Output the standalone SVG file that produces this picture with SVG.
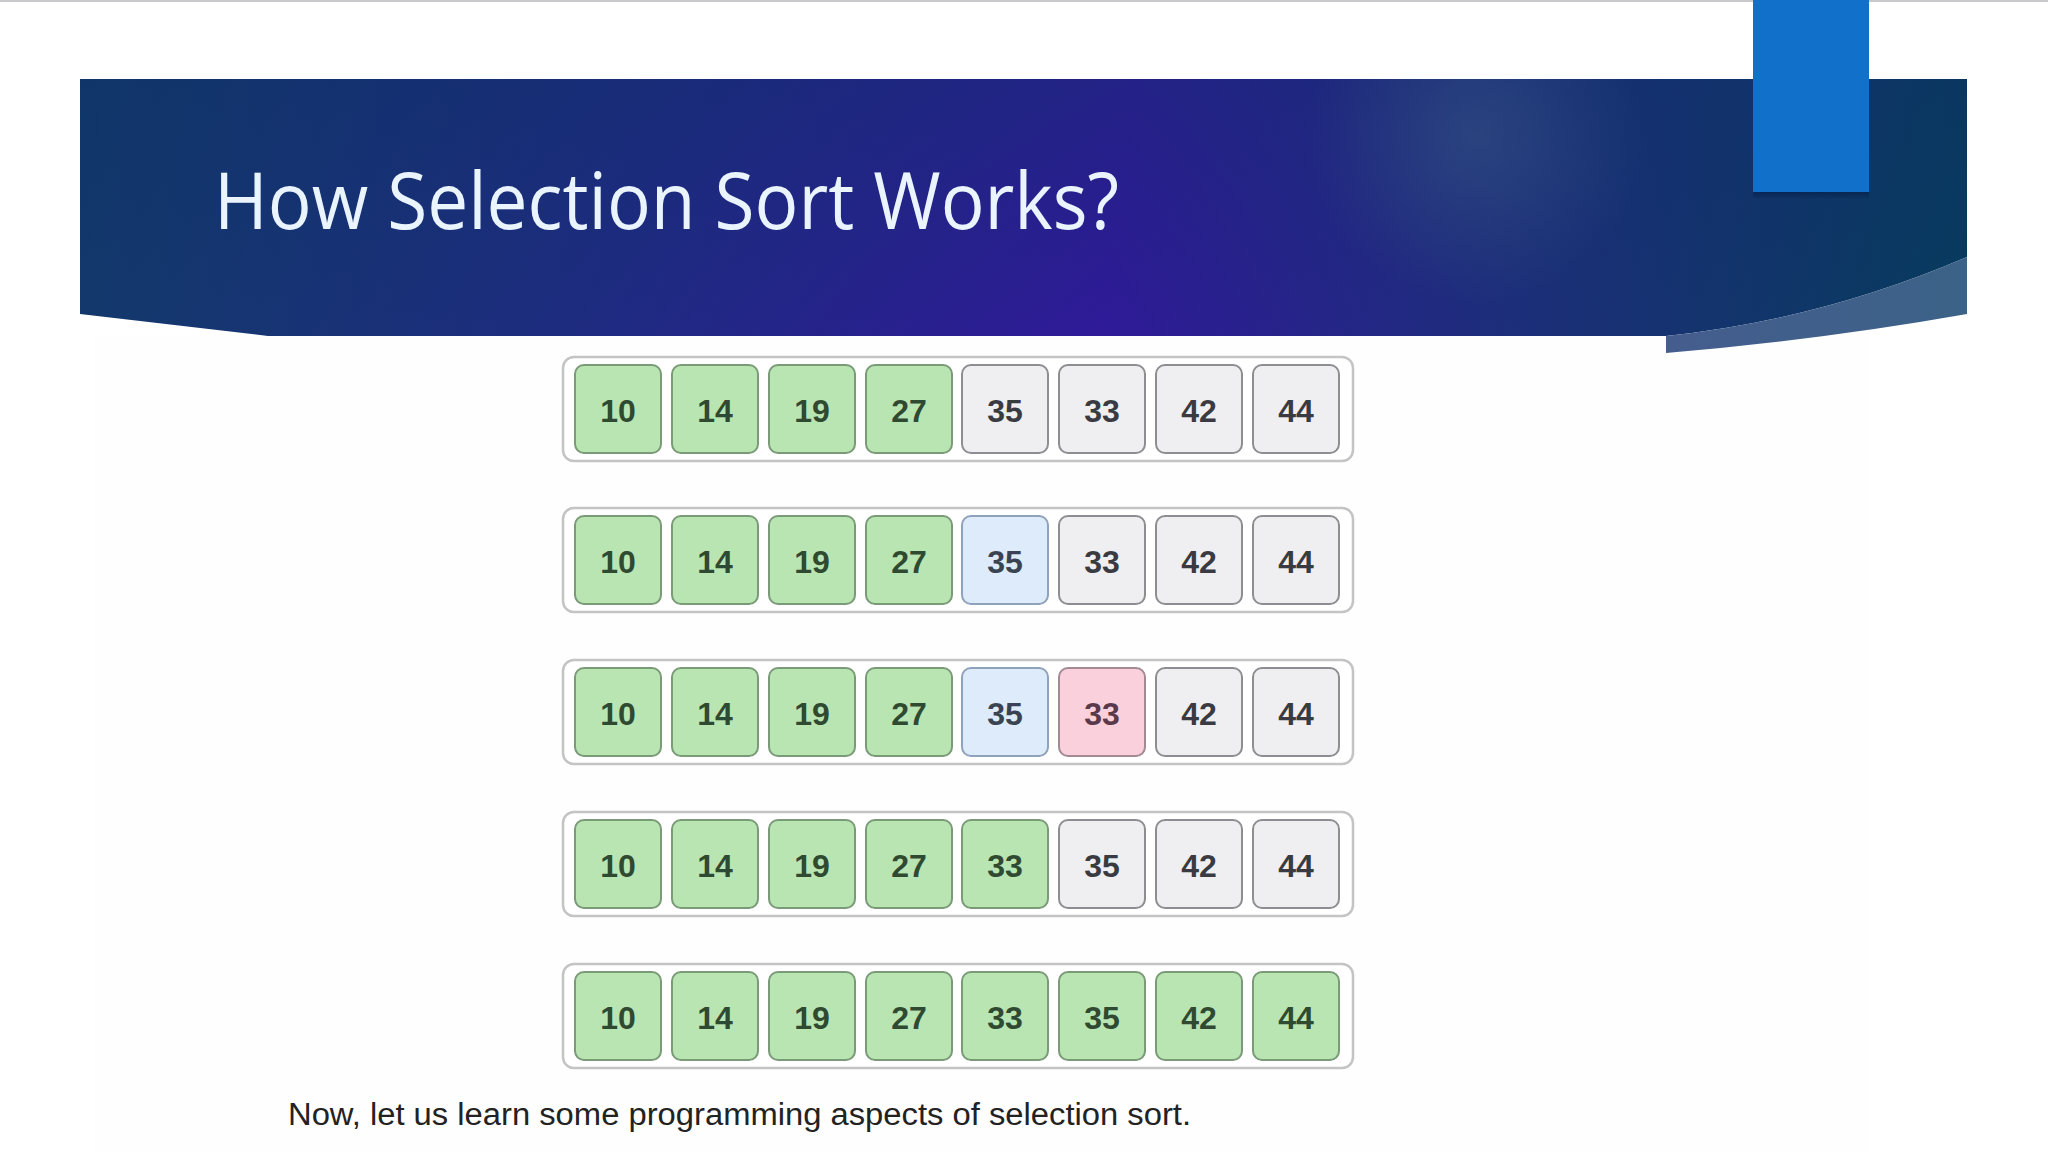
<svg xmlns="http://www.w3.org/2000/svg" width="2048" height="1152" viewBox="0 0 2048 1152">
<defs>
<linearGradient id="hdr" x1="80" y1="79" x2="1967" y2="336" gradientUnits="userSpaceOnUse">
<stop offset="0" stop-color="#123a6a"/>
<stop offset="0.3" stop-color="#1f2a82"/>
<stop offset="0.55" stop-color="#2f1a98"/>
<stop offset="0.75" stop-color="#1e2d7c"/>
<stop offset="1" stop-color="#073c5c"/>
</linearGradient>
<linearGradient id="hdrTop" x1="0" y1="79" x2="0" y2="336" gradientUnits="userSpaceOnUse">
<stop offset="0" stop-color="#0c2f66" stop-opacity="0.35"/>
<stop offset="1" stop-color="#0c2f66" stop-opacity="0"/>
</linearGradient>
<radialGradient id="glow" cx="1476" cy="135" r="170" gradientUnits="userSpaceOnUse">
<stop offset="0" stop-color="#3a5a86" stop-opacity="0.5"/>
<stop offset="1" stop-color="#3a5a86" stop-opacity="0"/>
</radialGradient>
<linearGradient id="wedge" x1="1666" y1="0" x2="1967" y2="0" gradientUnits="userSpaceOnUse">
<stop offset="0" stop-color="#455d8e"/>
<stop offset="1" stop-color="#3b6287"/>
</linearGradient>
<linearGradient id="shade" x1="0" y1="192" x2="0" y2="200" gradientUnits="userSpaceOnUse">
<stop offset="0" stop-color="#06204a" stop-opacity="0.7"/>
<stop offset="1" stop-color="#06204a" stop-opacity="0"/>
</linearGradient>
</defs>
<style>
.outer{fill:#ffffff;stroke:#c4c4c4;stroke-width:2.5}
.g{fill:#b9e5b3;stroke:#7a9a78;stroke-width:2}
.w{fill:#efeff1;stroke:#8e8e92;stroke-width:2}
.b{fill:#deebfa;stroke:#8ea2bc;stroke-width:2}
.p{fill:#fbd0dd;stroke:#a38a92;stroke-width:2}
.num{font-family:"Liberation Sans",Arial,sans-serif;font-size:32px;font-weight:bold;text-anchor:middle}
.tg{fill:#2f4a30}
.tw{fill:#3a3b42}
.tb{fill:#3a4352}
.tp{fill:#5a3a4a}
</style>
<rect x="0" y="0" width="2048" height="1152" fill="#ffffff"/>
<rect x="94" y="336" width="1774" height="816" fill="#fefefe"/>
<rect x="0" y="0" width="2048" height="2" fill="#c9c9cc"/>

<g id="header">
<path d="M80 79 H1967 V257 Q1820 320 1666 336 H268 L80 314 Z" fill="url(#hdr)"/>
<path d="M80 79 H1967 V257 Q1820 320 1666 336 H268 L80 314 Z" fill="url(#hdrTop)"/>
<path d="M80 79 H1967 V257 Q1820 320 1666 336 H268 L80 314 Z" fill="url(#glow)"/>
<path d="M1666 336 Q1820 320 1967 257 V314 Q1820 340 1666 353 Z" fill="url(#wedge)"/>
<text x="214" y="229" font-family="'Open Sans','Noto Sans',sans-serif" font-weight="400" font-size="78" fill="#eaf4ff" textLength="905" lengthAdjust="spacingAndGlyphs">How Selection Sort Works?</text>
</g>
<g id="accent">
<rect x="1753" y="192" width="116" height="7" fill="url(#shade)"/>
<rect x="1753" y="0" width="116" height="192" fill="#1170c9"/>
</g>

<g id="row1">
<rect class="outer" x="563" y="357" width="790" height="104" rx="11"/>
<g id="r1c1"><rect class="g" x="575" y="365" width="86" height="88" rx="9"/><text class="num tg" x="618" y="422">10</text></g>
<g id="r1c2"><rect class="g" x="672" y="365" width="86" height="88" rx="9"/><text class="num tg" x="715" y="422">14</text></g>
<g id="r1c3"><rect class="g" x="769" y="365" width="86" height="88" rx="9"/><text class="num tg" x="812" y="422">19</text></g>
<g id="r1c4"><rect class="g" x="866" y="365" width="86" height="88" rx="9"/><text class="num tg" x="909" y="422">27</text></g>
<g id="r1c5"><rect class="w" x="962" y="365" width="86" height="88" rx="9"/><text class="num tw" x="1005" y="422">35</text></g>
<g id="r1c6"><rect class="w" x="1059" y="365" width="86" height="88" rx="9"/><text class="num tw" x="1102" y="422">33</text></g>
<g id="r1c7"><rect class="w" x="1156" y="365" width="86" height="88" rx="9"/><text class="num tw" x="1199" y="422">42</text></g>
<g id="r1c8"><rect class="w" x="1253" y="365" width="86" height="88" rx="9"/><text class="num tw" x="1296" y="422">44</text></g>
</g>

<g id="row2">
<rect class="outer" x="563" y="508" width="790" height="104" rx="11"/>
<g id="r2c1"><rect class="g" x="575" y="516" width="86" height="88" rx="9"/><text class="num tg" x="618" y="573">10</text></g>
<g id="r2c2"><rect class="g" x="672" y="516" width="86" height="88" rx="9"/><text class="num tg" x="715" y="573">14</text></g>
<g id="r2c3"><rect class="g" x="769" y="516" width="86" height="88" rx="9"/><text class="num tg" x="812" y="573">19</text></g>
<g id="r2c4"><rect class="g" x="866" y="516" width="86" height="88" rx="9"/><text class="num tg" x="909" y="573">27</text></g>
<g id="r2c5"><rect class="b" x="962" y="516" width="86" height="88" rx="9"/><text class="num tb" x="1005" y="573">35</text></g>
<g id="r2c6"><rect class="w" x="1059" y="516" width="86" height="88" rx="9"/><text class="num tw" x="1102" y="573">33</text></g>
<g id="r2c7"><rect class="w" x="1156" y="516" width="86" height="88" rx="9"/><text class="num tw" x="1199" y="573">42</text></g>
<g id="r2c8"><rect class="w" x="1253" y="516" width="86" height="88" rx="9"/><text class="num tw" x="1296" y="573">44</text></g>
</g>

<g id="row3">
<rect class="outer" x="563" y="660" width="790" height="104" rx="11"/>
<g id="r3c1"><rect class="g" x="575" y="668" width="86" height="88" rx="9"/><text class="num tg" x="618" y="725">10</text></g>
<g id="r3c2"><rect class="g" x="672" y="668" width="86" height="88" rx="9"/><text class="num tg" x="715" y="725">14</text></g>
<g id="r3c3"><rect class="g" x="769" y="668" width="86" height="88" rx="9"/><text class="num tg" x="812" y="725">19</text></g>
<g id="r3c4"><rect class="g" x="866" y="668" width="86" height="88" rx="9"/><text class="num tg" x="909" y="725">27</text></g>
<g id="r3c5"><rect class="b" x="962" y="668" width="86" height="88" rx="9"/><text class="num tb" x="1005" y="725">35</text></g>
<g id="r3c6"><rect class="p" x="1059" y="668" width="86" height="88" rx="9"/><text class="num tp" x="1102" y="725">33</text></g>
<g id="r3c7"><rect class="w" x="1156" y="668" width="86" height="88" rx="9"/><text class="num tw" x="1199" y="725">42</text></g>
<g id="r3c8"><rect class="w" x="1253" y="668" width="86" height="88" rx="9"/><text class="num tw" x="1296" y="725">44</text></g>
</g>

<g id="row4">
<rect class="outer" x="563" y="812" width="790" height="104" rx="11"/>
<g id="r4c1"><rect class="g" x="575" y="820" width="86" height="88" rx="9"/><text class="num tg" x="618" y="877">10</text></g>
<g id="r4c2"><rect class="g" x="672" y="820" width="86" height="88" rx="9"/><text class="num tg" x="715" y="877">14</text></g>
<g id="r4c3"><rect class="g" x="769" y="820" width="86" height="88" rx="9"/><text class="num tg" x="812" y="877">19</text></g>
<g id="r4c4"><rect class="g" x="866" y="820" width="86" height="88" rx="9"/><text class="num tg" x="909" y="877">27</text></g>
<g id="r4c5"><rect class="g" x="962" y="820" width="86" height="88" rx="9"/><text class="num tg" x="1005" y="877">33</text></g>
<g id="r4c6"><rect class="w" x="1059" y="820" width="86" height="88" rx="9"/><text class="num tw" x="1102" y="877">35</text></g>
<g id="r4c7"><rect class="w" x="1156" y="820" width="86" height="88" rx="9"/><text class="num tw" x="1199" y="877">42</text></g>
<g id="r4c8"><rect class="w" x="1253" y="820" width="86" height="88" rx="9"/><text class="num tw" x="1296" y="877">44</text></g>
</g>

<g id="row5">
<rect class="outer" x="563" y="964" width="790" height="104" rx="11"/>
<g id="r5c1"><rect class="g" x="575" y="972" width="86" height="88" rx="9"/><text class="num tg" x="618" y="1029">10</text></g>
<g id="r5c2"><rect class="g" x="672" y="972" width="86" height="88" rx="9"/><text class="num tg" x="715" y="1029">14</text></g>
<g id="r5c3"><rect class="g" x="769" y="972" width="86" height="88" rx="9"/><text class="num tg" x="812" y="1029">19</text></g>
<g id="r5c4"><rect class="g" x="866" y="972" width="86" height="88" rx="9"/><text class="num tg" x="909" y="1029">27</text></g>
<g id="r5c5"><rect class="g" x="962" y="972" width="86" height="88" rx="9"/><text class="num tg" x="1005" y="1029">33</text></g>
<g id="r5c6"><rect class="g" x="1059" y="972" width="86" height="88" rx="9"/><text class="num tg" x="1102" y="1029">35</text></g>
<g id="r5c7"><rect class="g" x="1156" y="972" width="86" height="88" rx="9"/><text class="num tg" x="1199" y="1029">42</text></g>
<g id="r5c8"><rect class="g" x="1253" y="972" width="86" height="88" rx="9"/><text class="num tg" x="1296" y="1029">44</text></g>
</g>

<g id="connectors"></g>

<g id="caption">
<text x="288" y="1125" font-family="'Liberation Sans',Arial,sans-serif" font-size="31" fill="#222222" textLength="903" lengthAdjust="spacingAndGlyphs">Now, let us learn some programming aspects of selection sort.</text>
</g>
</svg>
